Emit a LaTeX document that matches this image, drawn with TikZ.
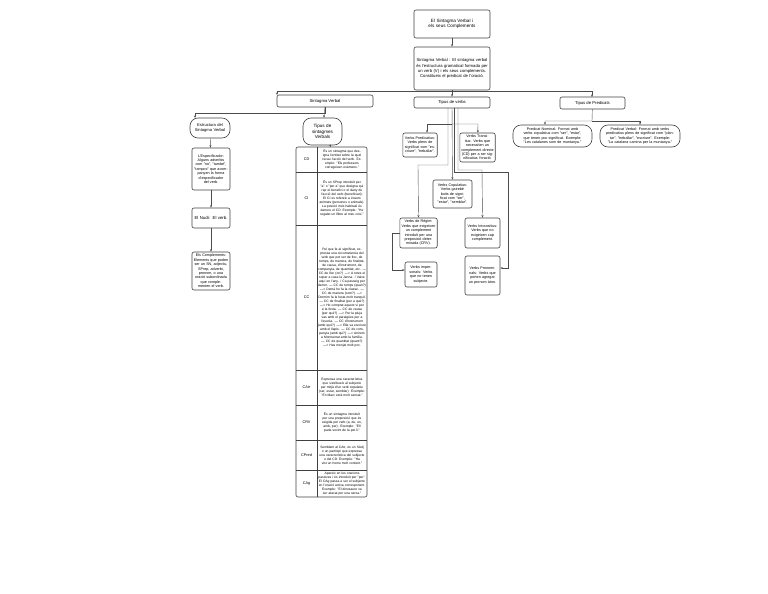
\documentclass[tikz,border=0pt]{standalone}
\usepackage{fontspec}
\setmainfont{Liberation Sans}
\usetikzlibrary{arrows.meta}
\begin{document}
\begin{tikzpicture}[x=1pt,y=-1pt,
  box/.style={draw=black!75,rounded corners=2pt,line width=0.6pt,align=center,font=\fontsize{3.7}{4.4}\selectfont,inner sep=1.2pt},
  pill/.style={box,rounded corners=8pt},
  cell/.style={align=center,font=\fontsize{3.3}{4.0}\selectfont,inner sep=1pt},
  arr/.style={-{Stealth[length=2.5pt,width=2pt]},line width=0.4pt,black!70}]
\useasboundingbox (0,0) rectangle (768,594);
% top
\node[box,minimum width=76pt,minimum height=28pt,text width=66pt,font=\fontsize{4.6}{5.6}\selectfont] (t) at (452,24) {El Sintagma Verbal i els seus Complements};
\node[box,minimum width=76pt,minimum height=43pt,text width=72pt,font=\fontsize{4.2}{5.1}\selectfont] (d) at (452,68.5) {Sintagma Verbal : El sintagma verbal és l'estructura gramatical formada per un verb (V) i els seus complements. Constitueix el predicat de l'oració.};
\draw[arr] (t) -- (d);
\node[box,minimum width=96pt,minimum height=12pt,font=\fontsize{4.2}{5}\selectfont] (sv) at (325,101) {Sintagma Verbal};
\node[box,minimum width=76pt,minimum height=11pt,font=\fontsize{4.2}{5}\selectfont] (tv) at (452,102.5) {Tipus de verbs};
\node[box,minimum width=65pt,minimum height=12pt,font=\fontsize{4.2}{5}\selectfont] (tp) at (592.5,103) {Tipus de Predicats};
\draw[arr] (d) -- (tv);
\draw[arr] (452,91) -- (277,91) -- (277,95);
\draw[arr] (452,91) -- (592,91) -- (592,97);
% left branch
\node[pill,minimum width=40pt,minimum height=20pt,text width=37pt,font=\fontsize{4.1}{5}\selectfont] (es) at (210,128) {Estructura del Sintagma Verbal};
\node[pill,minimum width=39pt,minimum height=27pt,text width=32pt,font=\fontsize{4.6}{5.4}\selectfont] (ts) at (322.5,131.5) {Tipus de sintagmes Verbals};
\draw[arr] (sv) -- (325,113) -- (195,113) -- (195,118);
\draw[arr] (325,107) -- (ts);
\node[box,minimum width=38pt,minimum height=42pt,text width=35pt] (e1) at (211,169) {L'Especificador: Alguns adverbis com "no", "també", "tampoc" que acompanyen la forma d'especificador del verb.};
\node[box,minimum width=38pt,minimum height=20pt,text width=35pt,font=\fontsize{4.3}{5.2}\selectfont] (e2) at (211,218) {El Nucli: El verb.};
\node[box,minimum width=38pt,minimum height=38pt,text width=35pt] (e3) at (211,271) {Els Complements: Elements que poden ser un SN, adjectiu, SPrep, adverbi, pronom, o una oració subordinada que complementen el verb.};
\draw[arr] (es) -- (e1); \draw[arr] (e1) -- (e2); \draw[arr] (e2) -- (e3);
% table
\draw[black!75,rounded corners=2pt,line width=0.6pt] (296,147) rectangle (367,497);
\draw[black!75,line width=0.5pt] (317,147) -- (317,497);
\foreach \yy in {172,225,370,405,440,470} \draw[black!75,line width=0.5pt] (296,\yy) -- (367,\yy);
\draw[arr] (ts) -- (331,147);
\foreach \n/\a/\b/\l in {cd/147/172/CD,ci/172/225/CI,cc/225/370/CC,ca/370/405/CAtr,cr/405/440/CRV,cp/440/470/CPred,cg/470/497/CAg}
  \node[cell,font=\fontsize{3.8}{4.5}\selectfont] (l\n) at (306.5,{(\a+\b)/2}) {\l};
\node[cell,text width=48pt] (tcd) at (342,159.5) {És un sintagma que designa l'entitat sobre la qual recau l'acció del verb. Exemple: "Els professors corregeixen exàmens."};
\node[cell,text width=48pt] (tci) at (342,198.5) {És un SPrep introduït per "a" o "per a" que designa qui rep el benefici o el dany de l'acció del verb (beneficiari). El CI es refereix a éssers animats (persones o animals). La posició més habitual és darrere el CD. Exemple: "He regalat un llibre al meu cosí."};
\node[cell,text width=48pt] (tcc) at (342,297.5) {Pel que fa al significat, expressa una circumstància del verb que pot ser de lloc, de temps, de manera, de finalitat, de causa, d'instrument, de companyia, de quantitat, etc. --- CC de lloc (on?) ---> A totes el sopar a casa la Jenna. / Vaive aquí en l'any. / Ca passeig per darrer. --- CC de temps (quan?) ---> Demà ho fa la classe. --- CC de manera (com?) ---> Dormim fa la festa molt tranquil. --- CC de finalitat (per a què?) ---> Ho comprat aquest vi per a la festa. --- CC de causa (per què?) ---> Per la pluja vas amb el paraigües per a l'escola. --- CC d'instrument (amb què?) ---> Ella va escriure amb el llapis. --- CC de companyia (amb qui?) ---> Anirem a Montserrat amb la família. --- CC de quantitat (quant?) ---> Has menjat molt poc.};
\node[cell,text width=48pt] (tca) at (342,387.5) {Expressa una característica que s'atribueix al subjecte per mitjà d'un verb copulatiu (ser, estar, semblar). Exemple: "En Marc està molt cansat."};
\node[cell,text width=48pt] (tcr) at (342,422.5) {És un sintagma introduït per una preposició que és exigida pel verb (a, de, en, amb, per). Exemple: "Ell parla sovint de la pel·li."};
\node[cell,text width=48pt] (tcp) at (342,455) {Semblant al CAtr, és un SAdj o un participi que expressa una característica del subjecte o del CD. Exemple: "Ha vist un home molt content."};
\node[cell,text width=48pt] (tcg) at (342,483.5) {Apareix en les oracions passives i és introduït per "per". El CAg passa a ser el subjecte en l'oració activa corresponent. Exemple: "El dinosaure va ser atacat per una xarxa."};
% verbs
\node[box,minimum width=34pt,minimum height=24pt,text width=32pt] (vp) at (420,145) {Verbs Predicatius: Verbs plens de significat com "escriure", "treballar".};
\node[box,minimum width=35pt,minimum height=29pt,text width=33pt] (vt) at (477.5,147.5) {Verbs Transitius: Verbs que necessiten un complement directe (CD) per a ser significatius l'oració.};
\node[box,minimum width=39pt,minimum height=28pt,text width=36pt] (vc) at (452.5,194) {Verbs Copulatius: Verbs gairebé buits de significat com "ser", "estar", "semblar".};
\node[box,minimum width=37pt,minimum height=30pt,text width=35pt] (vr) at (418.5,233) {Verbs de Règim: Verbs que exigeixen un complement introduït per una preposició determinada (CRV).};
\node[box,minimum width=35pt,minimum height=30pt,text width=30pt] (vi) at (482.5,233) {Verbs Intransitius: Verbs que no exigeixen cap complement.};
\node[box,minimum width=32pt,minimum height=25pt,text width=29pt] (vim) at (421,274.5) {Verbs impersonals: Verbs que no tenen subjecte.};
\node[box,minimum width=35pt,minimum height=39pt,text width=30pt] (vpr) at (482.5,275.5) {Verbs Pronominals: Verbs que porten agregat un pronom àton.};
\draw[arr] (tv) -- (vc);
\draw[arr] (452,124) -- (427,124) -- (vp.north-|427,0);
\draw[arr] (452,124) -- (478,124) -- (vt);
\draw[arr] (458,108) -- (458,170) -- (482,170) -- (vi.north);
\draw[arr] (448,108) -- (448,165) -- (418,165) -- (vr.north);
\draw[arr] (454,108) -- (454,172) -- (508,172) -- (508,268) -- (vpr.east|-0,268);
\draw[arr] (vr.west) -- (392,233) -- (392,270) -- (vim.west|-0,270);
% predicats
\node[pill,minimum width=79pt,minimum height=22pt,text width=72pt] (pn) at (552.5,136) {Predicat Nominal: Format amb verbs copulatius com "ser", "estar", que tenen poc significat. Exemple: "Les catalanes som de muntanya."};
\node[pill,minimum width=80pt,minimum height=22pt,text width=73pt] (pv) at (640,136) {Predicat Verbal: Format amb verbs predicatius plens de significat com "plantar", "treballar", "escriure". Exemple: "La catalana camina per la muntanya."};
\draw[arr] (tp) -- (592,121) -- (545,121) -- (pn.north-|545,0);
\draw[arr] (592,121) -- (640,121) -- (pv.north);
\end{tikzpicture}
\end{document}
